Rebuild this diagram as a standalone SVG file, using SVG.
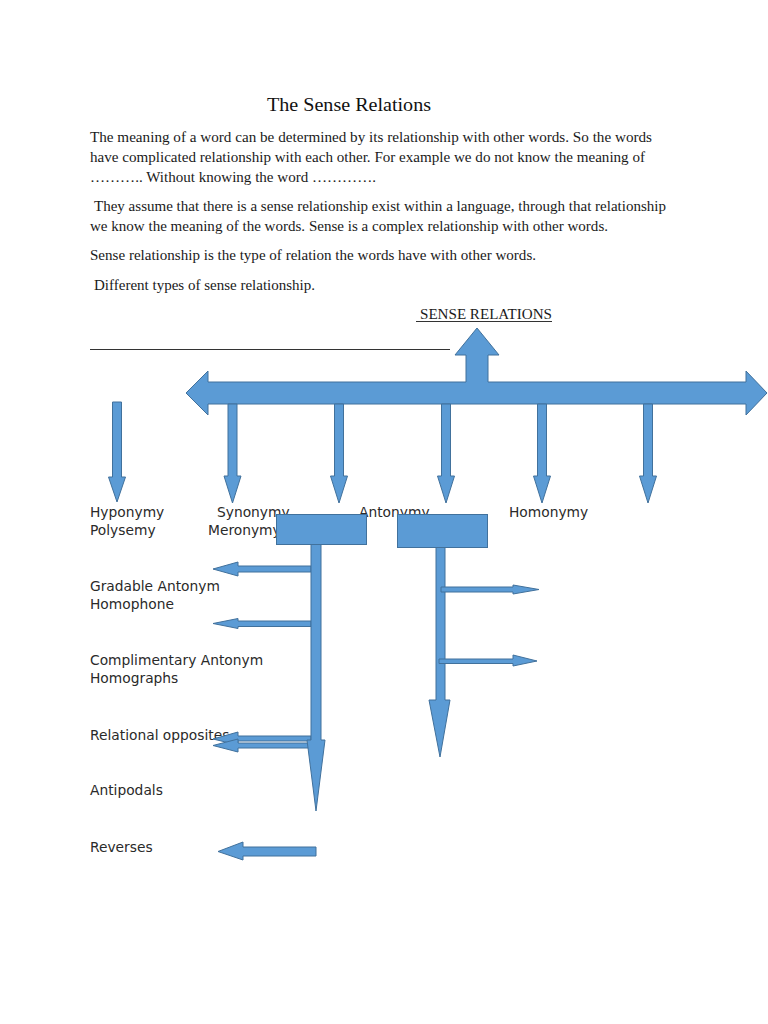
<svg xmlns="http://www.w3.org/2000/svg" xmlns:xlink="http://www.w3.org/1999/xlink" width="768" height="1024" viewBox="0 0 768 1024">
<style>
.bg{fill:#ffffff}
.serif{font-family:"Liberation Serif","Times New Roman",serif;font-size:14.5px;fill:#1a1a1a}
.title{font-family:"Liberation Serif","Times New Roman",serif;font-size:19.5px;fill:#111}
.sans{font-family:"DejaVu Sans",Verdana,sans-serif;font-size:13.8px;fill:#2a2a2a}
.arr{fill:#5b9bd5;stroke:#41719c;stroke-width:1;stroke-linejoin:miter}
.rule{stroke:#333;stroke-width:1.2}
</style>
<defs>
<path id="down" d="M-4.5,0 L4.5,0 L4.5,72 L8.5,72 L0,99 L-8.5,72 L-4.5,72 Z"/>
</defs>
<rect class="bg" x="0" y="0" width="768" height="1024"/>

<g id="title">
<text class="title" x="267" y="111" textLength="164" lengthAdjust="spacingAndGlyphs">The Sense Relations</text>
</g>

<g id="paragraphs">
<text class="serif" x="90" y="142" textLength="562" lengthAdjust="spacingAndGlyphs">The meaning of a word can be determined by its relationship with other words. So the words</text>
<text class="serif" x="90" y="162" textLength="555" lengthAdjust="spacingAndGlyphs">have complicated relationship with each other. For example we do not know the meaning of</text>
<text class="serif" x="90" y="182" textLength="286" lengthAdjust="spacingAndGlyphs">……….. Without knowing the word ………….</text>
<text class="serif" x="94" y="211" textLength="572" lengthAdjust="spacingAndGlyphs">They assume that there is a sense relationship exist within a language, through that relationship</text>
<text class="serif" x="90" y="231" textLength="518" lengthAdjust="spacingAndGlyphs">we know the meaning of the words. Sense is a complex relationship with other words.</text>
<text class="serif" x="90" y="260" textLength="446" lengthAdjust="spacingAndGlyphs">Sense relationship is the type of relation the words have with other words.</text>
<text class="serif" x="94" y="290" textLength="221" lengthAdjust="spacingAndGlyphs">Different types of sense relationship.</text>
</g>

<g id="node-sense-relations">
<text class="serif" x="420" y="319" textLength="132" lengthAdjust="spacingAndGlyphs">SENSE RELATIONS</text>
<line class="rule" x1="416" y1="321.5" x2="552" y2="321.5" stroke-width="1"/>
<line class="rule" x1="90" y1="349.5" x2="450" y2="349.5"/>
</g>

<g id="labels">
<text class="sans" x="90" y="517">Hyponymy</text>
<text class="sans" x="90" y="535">Polysemy</text>
<text class="sans" x="217" y="517">Synonymy</text>
<text class="sans" x="208" y="535">Meronymy</text>
<text class="sans" x="359" y="517">Antonymy</text>
<text class="sans" x="509" y="517">Homonymy</text>
<text class="sans" x="90" y="591">Gradable Antonym</text>
<text class="sans" x="90" y="609">Homophone</text>
<text class="sans" x="90" y="665">Complimentary Antonym</text>
<text class="sans" x="90" y="683">Homographs</text>
<text class="sans" x="90" y="740">Relational opposites</text>
<text class="sans" x="90" y="795">Antipodals</text>
<text class="sans" x="90" y="852">Reverses</text>
</g>

<g id="connectors">
<polygon class="arr" points="186,393 208,371 208,382 466,382 466,355 455,355 477,328 499,355 488,355 488,382 746,382 746,371 767,393 746,415 746,404 208,404 208,415"/>
<path class="arr" d="M112.5,402 L121.5,402 L121.5,477 L125.5,477 L117,502 L108.5,477 L112.5,477 Z"/>
<use xlink:href="#down" class="arr" transform="translate(232.5,404)"/>
<use xlink:href="#down" class="arr" transform="translate(339,404)"/>
<use xlink:href="#down" class="arr" transform="translate(446,404)"/>
<use xlink:href="#down" class="arr" transform="translate(542,404)"/>
<use xlink:href="#down" class="arr" transform="translate(648,404)"/>

<path class="arr" d="M311,566 L311,572 L238,572 L238,576 L213,569 L238,562 L238,566 Z"/>
<path class="arr" d="M311,621 L311,626.5 L238,626.5 L238,628.5 L213,623.5 L238,618.5 L238,621 Z"/>
<path class="arr" d="M311,736 L311,741 L238,741 L238,745 L213,739 L238,732 L238,736 Z"/>
<path class="arr" d="M311,743 L311,748 L238,748 L238,752 L213,745.5 L238,739 L238,743 Z"/>
<path class="arr" d="M316,847 L316,856 L243,856 L243,860 L218,851.5 L243,842 L243,847 Z"/>

<path class="arr" d="M311,544 L321,544 L321,740 L325,740 L316,811 L307,740 L311,740 Z"/>
<path class="arr" d="M436,547 L445,547 L445,700 L450,700 L440,757 L429,700 L436,700 Z"/>

<path class="arr" d="M441,587 L513,587 L513,585 L539,589.5 L513,594 L513,592 L441,592 Z"/>
<path class="arr" d="M439,659 L513,659 L513,655 L537,661 L513,666 L513,663.5 L439,663.5 Z"/>
</g>

<g id="node-rect-1">
<rect class="arr" x="276.5" y="514.5" width="90" height="30"/>
</g>
<g id="node-rect-2">
<rect class="arr" x="397.5" y="514.5" width="90" height="33"/>
</g>
</svg>
